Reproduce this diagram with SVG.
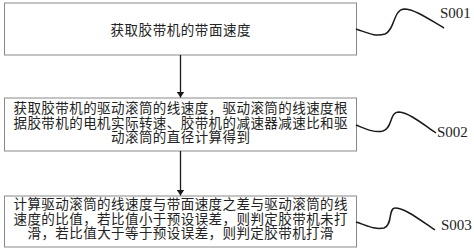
<svg xmlns="http://www.w3.org/2000/svg" width="474" height="251" viewBox="0 0 474 251">
<style>
.box{fill:#fff;stroke:#8a8a8a;stroke-width:1}
.t{font-family:"Liberation Serif","Noto Sans CJK SC",serif;font-size:13.5px;fill:#222;text-anchor:middle}
.lab{font-family:"Liberation Serif",serif;font-size:15px;fill:#222}
.sq{fill:none;stroke:#1a1a1a;stroke-width:1.5}
.con{stroke:#1a1a1a;stroke-width:1.3;fill:none}
</style>
<defs>
<marker id="ah" viewBox="0 0 10 10" refX="10" refY="5" markerWidth="6" markerHeight="8" markerUnits="userSpaceOnUse" orient="auto" preserveAspectRatio="none">
<path d="M0,0 L10,5 L0,10 Z" fill="#1a1a1a"/>
</marker>
</defs>
<rect width="474" height="251" fill="#fff"/>
<g id="S001">
<rect class="box" x="4.5" y="3" width="352" height="52"/>
<text class="t" x="180.5" y="35" textLength="140">获取胶带机的带面速度</text>
<path class="sq" d="M356,29 C368,33 375,37 385,34 C395,30 393,10 404,9 C415,9 430,20 444,28"/>
<text class="lab" x="440" y="18">S001</text>
</g>
<g id="S002">
<rect class="box" x="4.5" y="98" width="352" height="53"/>
<text class="t" x="180.5" y="113" textLength="334">获取胶带机的驱动滚筒的线速度，驱动滚筒的线速度根</text>
<text class="t" x="180.5" y="127.5" textLength="334">据胶带机的电机实际转速、胶带机的减速器减速比和驱</text>
<text class="t" x="180.5" y="142" textLength="139">动滚筒的直径计算得到</text>
<path class="sq" d="M356,125 C366,129 374,133 383,131 C393,128 389,112 399,112 C410,113 424,125 436,133"/>
<text class="lab" x="437" y="137">S002</text>
</g>
<g id="S003">
<rect class="box" x="4.5" y="196" width="352" height="51"/>
<text class="t" x="180.5" y="209" textLength="334">计算驱动滚筒的线速度与带面速度之差与驱动滚筒的线</text>
<text class="t" x="180.5" y="223.5" textLength="334">速度的比值，若比值小于预设误差，则判定胶带机未打</text>
<text class="t" x="180.5" y="238" textLength="306">滑，若比值大于等于预设误差，则判定胶带机打滑</text>
<path class="sq" d="M356,222 C366,225 374,230 384,228 C393,225 388,208 395,208 C405,208 420,220 435,230"/>
<text class="lab" x="441" y="230">S003</text>
</g>
<g id="connectors">
<line class="con" x1="180.5" y1="55" x2="180.5" y2="97.5" marker-end="url(#ah)"/>
<line class="con" x1="180.5" y1="151" x2="180.5" y2="195.5" marker-end="url(#ah)"/>
</g>
</svg>
